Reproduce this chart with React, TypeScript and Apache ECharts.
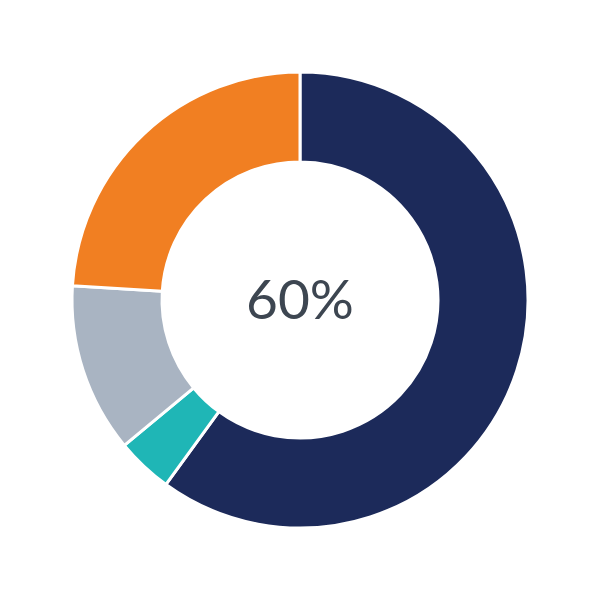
import * as echarts from 'echarts';
import { useEffect, useRef } from 'react';

const categories = ['Navy', 'Teal', 'Grey', 'Orange'];
const values = [60, 4, 12, 24];
const colors = ['#1c2a5a', '#1fb6b6', '#a9b4c2', '#f17f22'];
const centerLabel = '60%';

export default function App() {
  const chartRef = useRef<HTMLDivElement>(null);

  useEffect(() => {
    if (!chartRef.current) return;
    const chart = echarts.init(chartRef.current, undefined, { renderer: 'svg' });

    chart.setOption({
      animation: false,
      textStyle: { fontFamily: 'Lato, sans-serif' },
      graphic: [
        {
          type: 'text',
          x: 300,
          y: 298,
          style: {
            text: centerLabel,
            x: 0,
            y: 0,
            align: 'center',
            verticalAlign: 'middle',
            fontFamily: 'Lato, sans-serif',
            fontSize: 55,
            fontWeight: 400,
            fill: '#3d4651',
          },
        },
      ],
      series: [
        {
          type: 'pie',
          center: [300, 300],
          radius: [138, 228],
          startAngle: 90,
          clockwise: true,
          label: { show: false },
          labelLine: { show: false },
          itemStyle: { borderColor: '#ffffff', borderWidth: 3 },
          data: categories.map((name, i) => ({
            name,
            value: values[i],
            itemStyle: { color: colors[i] },
          })),
        },
      ],
    });

    return () => chart.dispose();
  }, []);

  return (
    <div
      ref={chartRef}
      style={{ position: 'fixed', left: 0, top: 0, width: '600px', height: '600px', background: '#fff' }}
    />
  );
}
